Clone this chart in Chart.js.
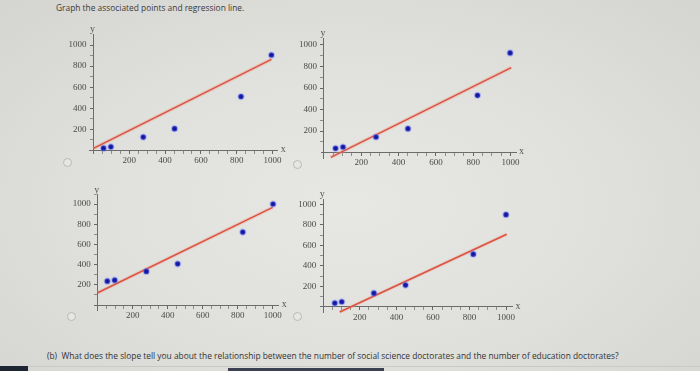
<!DOCTYPE html>
<html><head><meta charset="utf-8">
<script src="https://cdn.jsdelivr.net/npm/chart.js@4.4.1/dist/chart.umd.min.js"></script>
<style>
html,body{margin:0;padding:0;}
body{width:700px;height:371px;position:relative;overflow:hidden;
 background:radial-gradient(ellipse at 50% 55%, #e7e7e3 0%, #e0e0dc 50%, #d4d4d0 100%);
 font-family:'Open Sans',sans-serif;}
.title{position:absolute;left:56px;top:2px;font-size:8.4px;color:#3a3a3a;white-space:nowrap;}
.q{position:absolute;left:47px;top:350px;font-size:8.4px;color:#333;white-space:nowrap;}
.radio{position:absolute;width:7px;height:7px;border:1px solid #b9b9b5;border-radius:50%;background:#e6e6e2;}
.plot{position:absolute;}
.strip{position:absolute;}
</style></head><body>
<div class="title">Graph the associated points and regression line.</div>
<div class="q">(b)&nbsp;&nbsp;What does the slope tell you about the relationship between the number of social science doctorates and the number of education doctorates?</div>
<div class="radio" style="left:63px;top:158px"></div>
<div class="radio" style="left:293px;top:160px"></div>
<div class="radio" style="left:67px;top:312px"></div>
<div class="radio" style="left:293px;top:312px"></div>
<div class="strip" style="left:0;top:366px;width:700px;height:1px;background:#c9c9c5"></div>
<div class="strip" style="left:0;top:366px;width:28px;height:5px;background:#1d2532"></div>
<div class="strip" style="left:228px;top:368px;width:156px;height:3px;background:#3b4150"></div>
<div class="plot" id="w1"><canvas id="c1"></canvas></div>
<div class="plot" id="w2"><canvas id="c2"></canvas></div>
<div class="plot" id="w3"><canvas id="c3"></canvas></div>
<div class="plot" id="w4"><canvas id="c4"></canvas></div>
<script>
// ---- data ----
const xTickLabels = [200, 400, 600, 800, 1000];
const yTickLabels = [200, 400, 600, 800, 1000];
const xMinorTicks = [50,100,150,200,250,300,350,400,450,500,550,600,650,700,750,800,850,900,950,1000];
const yMinorTicks = [100,200,300,400,500,600,700,800,900,1000];

// plot 1 (top left)
const p1X = [56, 97, 278, 453, 824, 994];
const p1Y = [22, 35, 127, 207, 511, 905];
const p1LineX = [0, 994];
const p1LineY = [20, 864];
// plot 2 (top right)
const p2X = [62, 102, 279, 450, 823, 998];
const p2Y = [39, 51, 144, 222, 532, 926];
const p2LineX = [36, 1004];
const p2LineY = [-45, 789];
// plot 3 (bottom left)
const p3X = [55, 97, 278, 457, 829, 1002];
const p3Y = [236, 246, 332, 408, 722, 1000];
const p3LineX = [0, 1000];
const p3LineY = [121, 967];
// plot 4 (bottom right)
const p4X = [63, 101, 277, 450, 821, 1000];
const p4Y = [38, 51, 135, 213, 514, 899];
const p4LineX = [90, 1004];
const p4LineY = [-49, 708];

// ---- layout (pixel placement of each small plot) ----
const geo = [
 {px0:93.5, sx:0.179,  py0:150.5, sy:0.1055, xmin:-20, xmax:1030, ymin:-28, ymax:1100},
 {px0:324,  sx:0.1865, py0:152.5, sy:0.1075, xmin:-15, xmax:1030, ymin:-52, ymax:1060},
 {px0:97.7, sx:0.175,  py0:305,   sy:0.101,  xmin:-18, xmax:1035, ymin:-50, ymax:1090},
 {px0:323.3,sx:0.1827, py0:307,   sy:0.1027, xmin:-18, xmax:1035, ymin:-52, ymax:1050}
];

const axisLabels = {
  id: 'axisLabels',
  afterDraw(chart) {
    const ctx = chart.ctx, xs = chart.scales.x, ys = chart.scales.y;
    ctx.save();
    ctx.fillStyle = '#555';
    ctx.font = '10px "Liberation Serif"';
    ctx.textBaseline = 'middle';
    ctx.textAlign = 'left';
    ctx.fillText('x', xs.right + 3, ys.getPixelForValue(0) - 1);
    ctx.textAlign = 'center';
    ctx.fillText('y', xs.getPixelForValue(0) - 1, ys.top - 5);
    ctx.restore();
  }
};

const tickFont = {family: '"Liberation Serif"', size: 9};
const labelColor = '#4a4a4a';

// the y labels of an axis placed at x = 0 sit right on the axis line; move them 7px to the left
function shiftYLabels(scale) {
  if (scale._shiftPatched) return;
  const orig = scale._computeLabelItems.bind(scale);
  scale._computeLabelItems = function (ca) {
    const items = orig(ca);
    items.forEach(it => { it.options.translation[0] -= 7; });
    return items;
  };
  scale._shiftPatched = true;
}

function makeChart(n, g, xs, ys, lx, ly) {
  const L = g.px0 + g.xmin * g.sx, R = g.px0 + g.xmax * g.sx;
  const T = g.py0 - g.ymax * g.sy, B = g.py0 - g.ymin * g.sy;
  const padL = 30, padT = 14, padR = 14, padB = 18;
  const cl = Math.floor(L) - padL, ct = Math.floor(T) - padT;
  const cw = Math.ceil(R) + padR - cl, ch = Math.ceil(B) + padB - ct;
  const wrap = document.getElementById('w' + n);
  wrap.style.left = cl + 'px'; wrap.style.top = ct + 'px';
  const cv = document.getElementById('c' + n);
  cv.width = cw; cv.height = ch;
  cv.style.width = cw + 'px'; cv.style.height = ch + 'px';
  const pts = xs.map((x, i) => ({x: x, y: ys[i]}));
  const line = lx.map((x, i) => ({x: x, y: ly[i]}));
  new Chart(cv, {
    type: 'scatter',
    data: {datasets: [
      {data: pts, backgroundColor: '#15159c', borderColor: 'rgba(95,115,255,0.35)',
       borderWidth: 2, pointRadius: 2.6, pointHoverRadius: 2.6, clip: false},
      {type: 'line', data: line, borderColor: '#d9543f', borderWidth: 1.5,
       pointRadius: 0, fill: false, clip: false},
      {type: 'line', data: line, borderColor: 'rgba(240,150,140,0.35)', borderWidth: 3.5,
       pointRadius: 0, fill: false, clip: false}
    ]},
    options: {
      responsive: false, animation: false, devicePixelRatio: 1,
      layout: {padding: {left: L - cl, top: T - ct, right: cl + cw - R, bottom: ct + ch - B}},
      plugins: {legend: {display: false}, tooltip: {enabled: false}},
      scales: {
        x: {
          type: 'linear', min: g.xmin, max: g.xmax, position: {y: 0},
          grid: {drawOnChartArea: false, drawTicks: true, tickLength: 3,
                 tickColor: c => (c.tick && xTickLabels.includes(c.tick.value)) ? '#666' : '#8c8c8c'},
          border: {display: true, color: '#6c6c6c', width: 1},
          ticks: {autoSkip: false, maxRotation: 0, padding: 2, font: tickFont, color: labelColor,
                  callback: v => xTickLabels.includes(v) ? String(v) : ''},
          afterBuildTicks: s => { s.ticks = xMinorTicks.map(v => ({value: v})); },
          afterFit: s => { s.height = 0; }
        },
        y: {
          type: 'linear', min: g.ymin, max: g.ymax, position: {x: 0},
          grid: {drawOnChartArea: false, drawTicks: true, tickLength: 3,
                 tickColor: c => (c.tick && yTickLabels.includes(c.tick.value)) ? '#666' : '#8c8c8c'},
          border: {display: true, color: '#6c6c6c', width: 1},
          ticks: {autoSkip: false, font: tickFont, color: labelColor,
                  callback: v => yTickLabels.includes(v) ? String(v) : ''},
          afterBuildTicks: s => { s.ticks = yMinorTicks.map(v => ({value: v})); },
          afterFit: s => { s.width = 0; },
          afterUpdate: s => shiftYLabels(s)
        }
      }
    },
    plugins: [axisLabels]
  });
}

makeChart(1, geo[0], p1X, p1Y, p1LineX, p1LineY);
makeChart(2, geo[1], p2X, p2Y, p2LineX, p2LineY);
makeChart(3, geo[2], p3X, p3Y, p3LineX, p3LineY);
makeChart(4, geo[3], p4X, p4Y, p4LineX, p4LineY);
</script>
</body></html>
